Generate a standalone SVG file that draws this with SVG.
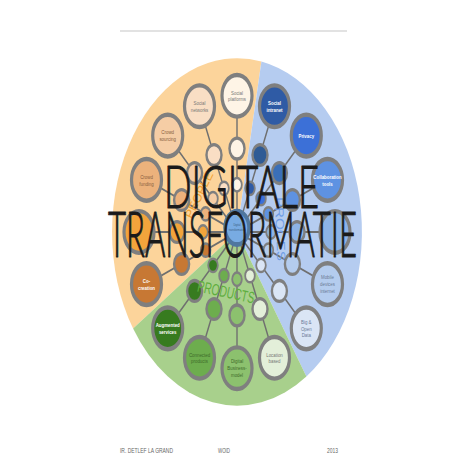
<svg xmlns="http://www.w3.org/2000/svg" width="467" height="467" viewBox="0 0 467 467">
<style>
.ln{stroke:#6f6f6f;stroke-width:1.4;fill:none}
.o{stroke:#7f7f7f;stroke-width:3.2}
.m{stroke:#7f7f7f;stroke-width:2.4}
.i{stroke:#7f7f7f;stroke-width:1.8}
.t{font-family:"Liberation Sans",Arial,sans-serif;font-size:4.4px;text-anchor:middle}
.w{fill:#ffffff;font-weight:bold}
.g{fill:#777777}
.dg{fill:#3e6b2a}
.br{fill:#8a6040}
.bl{fill:#6b7a95}
.ft{font-family:"Liberation Sans",Arial,sans-serif;font-size:6.5px;fill:#666666}
.ttl{font-family:Lato,Roboto,"Liberation Sans",sans-serif;font-weight:300;fill:#1a1a1a;stroke:#1a1a1a;stroke-width:1.1;stroke-linejoin:round}
.sec{font-family:"Liberation Sans",Arial,sans-serif;text-anchor:middle}
</style>
<rect width="467" height="467" fill="#ffffff"/>
<line x1="120" y1="31" x2="347" y2="31" stroke="#d9d9d9" stroke-width="1.5"/>
<g id="pie" transform="translate(237 232) scale(1 1.39)">
  <g id="sectors">
    <path d="M0,0 L-103.9,69.4 A125,125 0 0 1 24.4,-122.6 Z" fill="#fcd49b"/>
    <path d="M0,0 L24.4,-122.6 A125,125 0 0 1 69.4,103.9 Z" fill="#b5ccf0"/>
    <path d="M0,0 L69.4,103.9 A125,125 0 0 1 -103.9,69.4 Z" fill="#a8d08c"/>
  </g>
  <g id="connectors" class="ln">
    <line x1="0" y1="0" x2="34" y2="0"/><line x1="34" y1="0" x2="60" y2="0"/><line x1="60" y1="0" x2="98" y2="0"/>
    <line x1="0" y1="0" x2="31.4" y2="13"/><line x1="31.4" y1="13" x2="55.4" y2="23"/><line x1="55.4" y1="23" x2="90.5" y2="37.5"/>
    <line x1="0" y1="0" x2="24" y2="24"/><line x1="24" y1="24" x2="42.4" y2="42.4"/><line x1="42.4" y1="42.4" x2="69.3" y2="69.3"/>
    <line x1="0" y1="0" x2="13" y2="31.4"/><line x1="13" y1="31.4" x2="23" y2="55.4"/><line x1="23" y1="55.4" x2="37.5" y2="90.5"/>
    <line x1="0" y1="0" x2="0" y2="34"/><line x1="0" y1="34" x2="0" y2="60"/><line x1="0" y1="60" x2="0" y2="98"/>
    <line x1="0" y1="0" x2="-13" y2="31.4"/><line x1="-13" y1="31.4" x2="-23" y2="55.4"/><line x1="-23" y1="55.4" x2="-37.5" y2="90.5"/>
    <line x1="0" y1="0" x2="-24" y2="24"/><line x1="-24" y1="24" x2="-42.4" y2="42.4"/><line x1="-42.4" y1="42.4" x2="-69.3" y2="69.3"/>
    <line x1="0" y1="0" x2="-31.4" y2="13"/><line x1="-31.4" y1="13" x2="-55.4" y2="23"/><line x1="-55.4" y1="23" x2="-90.5" y2="37.5"/>
    <line x1="0" y1="0" x2="-34" y2="0"/><line x1="-34" y1="0" x2="-60" y2="0"/><line x1="-60" y1="0" x2="-98" y2="0"/>
    <line x1="0" y1="0" x2="-31.4" y2="-13"/><line x1="-31.4" y1="-13" x2="-55.4" y2="-23"/><line x1="-55.4" y1="-23" x2="-90.5" y2="-37.5"/>
    <line x1="0" y1="0" x2="-24" y2="-24"/><line x1="-24" y1="-24" x2="-42.4" y2="-42.4"/><line x1="-42.4" y1="-42.4" x2="-69.3" y2="-69.3"/>
    <line x1="0" y1="0" x2="-13" y2="-31.4"/><line x1="-13" y1="-31.4" x2="-23" y2="-55.4"/><line x1="-23" y1="-55.4" x2="-37.5" y2="-90.5"/>
    <line x1="0" y1="0" x2="0" y2="-34"/><line x1="0" y1="-34" x2="0" y2="-60"/><line x1="0" y1="-60" x2="0" y2="-98"/>
    <line x1="0" y1="0" x2="13" y2="-31.4"/><line x1="13" y1="-31.4" x2="23" y2="-55.4"/><line x1="23" y1="-55.4" x2="37.5" y2="-90.5"/>
    <line x1="0" y1="0" x2="24" y2="-24"/><line x1="24" y1="-24" x2="42.4" y2="-42.4"/><line x1="42.4" y1="-42.4" x2="69.3" y2="-69.3"/>
    <line x1="0" y1="0" x2="31.4" y2="-13"/><line x1="31.4" y1="-13" x2="55.4" y2="-23"/><line x1="55.4" y1="-23" x2="90.5" y2="-37.5"/>
  </g>
  <g id="i00"><circle class="i" cx="34" cy="0" r="4.8" fill="#8db3e5"/></g>
  <g id="i01"><circle class="i" cx="31.4" cy="13" r="4.8" fill="#b4ccee"/></g>
  <g id="i02"><circle class="i" cx="24" cy="24" r="4.8" fill="#dae5f5"/></g>
  <g id="i03"><circle class="i" cx="13" cy="31.4" r="4.8" fill="#e3efd9"/></g>
  <g id="i04"><circle class="i" cx="0" cy="34" r="4.8" fill="#8cc16e"/></g>
  <g id="i05"><circle class="i" cx="-13" cy="31.4" r="4.8" fill="#6dad4e"/></g>
  <g id="i06"><circle class="i" cx="-24" cy="24" r="4.8" fill="#377b1f"/></g>
  <g id="i07"><circle class="i" cx="-31.4" cy="13" r="4.8" fill="#c77834"/></g>
  <g id="i08"><circle class="i" cx="-34" cy="0" r="4.8" fill="#f2a43c"/></g>
  <g id="i09"><circle class="i" cx="-31.4" cy="-13" r="4.8" fill="#ecb27c"/></g>
  <g id="i10"><circle class="i" cx="-24" cy="-24" r="4.8" fill="#f5cda5"/></g>
  <g id="i11"><circle class="i" cx="-13" cy="-31.4" r="4.8" fill="#f9dec4"/></g>
  <g id="i12"><circle class="i" cx="0" cy="-34" r="4.8" fill="#fef4e6"/></g>
  <g id="i13"><circle class="i" cx="13" cy="-31.4" r="4.8" fill="#2f5ba5"/></g>
  <g id="i14"><circle class="i" cx="24" cy="-24" r="4.8" fill="#3c70d7"/></g>
  <g id="i15"><circle class="i" cx="31.4" cy="-13" r="4.8" fill="#5e92e2"/></g>
  <g id="m00"><circle class="m" cx="60" cy="0" r="7.5" fill="#8db3e5"/></g>
  <g id="m01"><circle class="m" cx="55.4" cy="23" r="7.5" fill="#b4ccee"/></g>
  <g id="m02"><circle class="m" cx="42.4" cy="42.4" r="7.5" fill="#dae5f5"/></g>
  <g id="m03"><circle class="m" cx="23" cy="55.4" r="7.5" fill="#e3efd9"/></g>
  <g id="m04"><circle class="m" cx="0" cy="60" r="7.5" fill="#8cc16e"/></g>
  <g id="m05"><circle class="m" cx="-23" cy="55.4" r="7.5" fill="#6dad4e"/></g>
  <g id="m06"><circle class="m" cx="-42.4" cy="42.4" r="7.5" fill="#377b1f"/></g>
  <g id="m07"><circle class="m" cx="-55.4" cy="23" r="7.5" fill="#c77834"/></g>
  <g id="m08"><circle class="m" cx="-60" cy="0" r="7.5" fill="#f2a43c"/></g>
  <g id="m09"><circle class="m" cx="-55.4" cy="-23" r="7.5" fill="#ecb27c"/></g>
  <g id="m10"><circle class="m" cx="-42.4" cy="-42.4" r="7.5" fill="#f5cda5"/></g>
  <g id="m11"><circle class="m" cx="-23" cy="-55.4" r="7.5" fill="#f9dec4"/></g>
  <g id="m12"><circle class="m" cx="0" cy="-60" r="7.5" fill="#fef4e6"/></g>
  <g id="m13"><circle class="m" cx="23" cy="-55.4" r="7.5" fill="#2f5b95"/></g>
  <g id="m14"><circle class="m" cx="42.4" cy="-42.4" r="7.5" fill="#3a6fb8"/></g>
  <g id="m15"><circle class="m" cx="55.4" cy="-23" r="7.5" fill="#5e92e2"/></g>
  <g id="n-blue-hidden"><circle class="o" cx="98" cy="0" r="15" fill="#8db3e5"/></g>
  <g id="n-mobile"><circle class="o" cx="90.5" cy="37.5" r="15" fill="#b4ccee"/>
    <text class="t bl" x="90.5" y="34.1">Mobile</text><text class="t bl" x="90.5" y="39.1">devices</text><text class="t bl" x="90.5" y="44.1">internet</text></g>
  <g id="n-bigdata"><circle class="o" cx="69.3" cy="69.3" r="15" fill="#dae5f5"/>
    <text class="t bl" x="69.3" y="65.9">Big &amp;</text><text class="t bl" x="69.3" y="70.9">Open</text><text class="t bl" x="69.3" y="75.9">Data</text></g>
  <g id="n-location"><circle class="o" cx="37.5" cy="90.5" r="15" fill="#e3efd9"/>
    <text class="t g" x="37.5" y="89.6">Location</text><text class="t g" x="37.5" y="94.6">based</text></g>
  <g id="n-digital-business"><circle class="o" cx="0" cy="98" r="15" fill="#8cc16e"/>
    <text class="t dg" x="0" y="94.6">Digital</text><text class="t dg" x="0" y="99.6">Business-</text><text class="t dg" x="0" y="104.6">model</text></g>
  <g id="n-connected"><circle class="o" cx="-37.5" cy="90.5" r="15" fill="#6dad4e"/>
    <text class="t dg" x="-37.5" y="89.6">Connected</text><text class="t dg" x="-37.5" y="94.6">products</text></g>
  <g id="n-augmented"><circle class="o" cx="-69.3" cy="69.3" r="15" fill="#377b1f"/>
    <text class="t w" x="-69.3" y="68.4">Augmented</text><text class="t w" x="-69.3" y="73.4">services</text></g>
  <g id="n-cocreation"><circle class="o" cx="-90.5" cy="37.5" r="15" fill="#c77834"/>
    <text class="t w" x="-90.5" y="36.6">Co-</text><text class="t w" x="-90.5" y="41.6">creation</text></g>
  <g id="n-orange-hidden"><circle class="o" cx="-98" cy="0" r="15" fill="#f2a43c"/></g>
  <g id="n-crowdfunding"><circle class="o" cx="-90.5" cy="-37.5" r="15" fill="#ecb27c"/>
    <text class="t br" x="-90.5" y="-38.4">Crowd</text><text class="t br" x="-90.5" y="-33.4">funding</text></g>
  <g id="n-crowdsourcing"><circle class="o" cx="-69.3" cy="-69.3" r="15" fill="#f5cda5"/>
    <text class="t br" x="-69.3" y="-70.2">Crowd</text><text class="t br" x="-69.3" y="-65.2">sourcing</text></g>
  <g id="n-socialnetworks"><circle class="o" cx="-37.5" cy="-90.5" r="15" fill="#f9dec4"/>
    <text class="t g" x="-37.5" y="-91.4">Social</text><text class="t g" x="-37.5" y="-86.4">networks</text></g>
  <g id="n-socialplatforms"><circle class="o" cx="0" cy="-98" r="15" fill="#fef4e6"/>
    <text class="t g" x="0" y="-98.9">Social</text><text class="t g" x="0" y="-93.9">platforms</text></g>
  <g id="n-socialintranet"><circle class="o" cx="37.5" cy="-90.5" r="15" fill="#2f5ba5"/>
    <text class="t w" x="37.5" y="-91.4">Social</text><text class="t w" x="37.5" y="-86.4">intranet</text></g>
  <g id="n-privacy"><circle class="o" cx="69.3" cy="-69.3" r="15" fill="#3c70d7"/>
    <text class="t w" x="69.3" y="-67.7">Privacy</text></g>
  <g id="n-collaboration"><circle class="o" cx="90.5" cy="-37.5" r="15" fill="#5e92e2"/>
    <text class="t w" x="90.5" y="-38.4">Collaboration</text><text class="t w" x="90.5" y="-33.4">tools</text></g>
  <g id="n-hub"><circle cx="0" cy="-3" r="12" fill="#78abe2" stroke="#50779f" stroke-width="3.5"/>
    <text class="t" x="0" y="-4" style="font-size:2.6px;fill:#3d5f85">Digital</text><text class="t" x="0" y="-0.5" style="font-size:2.6px;fill:#3d5f85">transformation</text></g>
</g>
<g id="sector-labels">
  <text class="sec" x="0" y="0" transform="translate(199 195) rotate(-64)" font-size="12" fill="#f0a030" textLength="50" lengthAdjust="spacingAndGlyphs" dy="4">PEOPLE</text>
  <text class="sec" x="0" y="0" transform="translate(280 229) rotate(88)" font-size="12" fill="#6f9de6" textLength="64" lengthAdjust="spacingAndGlyphs" dy="4">PROCES</text>
  <text class="sec" x="0" y="0" transform="translate(226 292) rotate(12)" font-size="16" fill="#5fae3e" textLength="58" lengthAdjust="spacingAndGlyphs" dy="5.5">PRODUCTS</text>
</g>
<g id="title">
  <text class="ttl" x="164" y="208" font-size="60" textLength="155" lengthAdjust="spacingAndGlyphs">DIGITALE</text>
  <text class="ttl" x="108" y="257" font-size="63" textLength="249" lengthAdjust="spacingAndGlyphs">TRANSFORMATIE</text>
</g>
<g id="footer">
  <text class="ft" x="120" y="453" textLength="53" lengthAdjust="spacingAndGlyphs">IR. DETLEF LA GRAND</text>
  <text class="ft" x="218" y="453" textLength="12" lengthAdjust="spacingAndGlyphs">WOID</text>
  <text class="ft" x="327" y="453" textLength="11" lengthAdjust="spacingAndGlyphs">2013</text>
</g>
</svg>
